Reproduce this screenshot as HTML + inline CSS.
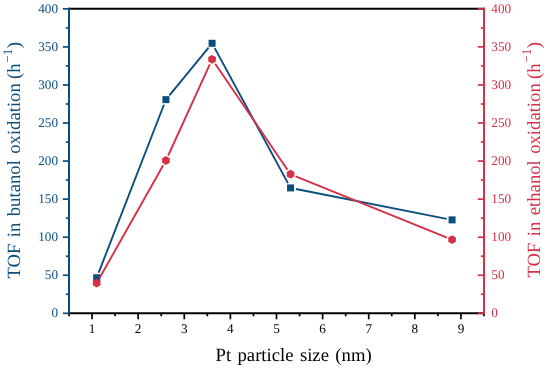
<!DOCTYPE html>
<html><head><meta charset="utf-8"><title>TOF vs Pt particle size</title>
<style>html,body{margin:0;padding:0;background:#fff}</style></head>
<body>
<svg width="550" height="371" viewBox="0 0 550 371" style="display:block;text-rendering:geometricPrecision;font-family:'Liberation Serif',serif">
<rect width="550" height="371" fill="#fff"/>
<line x1="98.69" y1="272.60" x2="163.93" y2="104.75" stroke="#0a4e7e" stroke-width="1.9"/>
<line x1="169.41" y1="95.37" x2="208.60" y2="47.55" stroke="#0a4e7e" stroke-width="1.9"/>
<line x1="214.71" y1="48.13" x2="287.92" y2="183.08" stroke="#0a4e7e" stroke-width="1.9"/>
<line x1="295.94" y1="188.98" x2="446.70" y2="218.81" stroke="#0a4e7e" stroke-width="1.9"/>
<rect x="93.19" y="274.23" width="7" height="7" fill="#0a4e7e"/>
<rect x="162.43" y="96.12" width="7" height="7" fill="#0a4e7e"/>
<rect x="208.58" y="39.80" width="7" height="7" fill="#0a4e7e"/>
<rect x="287.05" y="184.41" width="7" height="7" fill="#0a4e7e"/>
<rect x="448.59" y="216.38" width="7" height="7" fill="#0a4e7e"/>
<line x1="99.40" y1="278.27" x2="163.22" y2="165.30" stroke="#d63048" stroke-width="1.9"/>
<line x1="168.21" y1="155.51" x2="209.80" y2="64.29" stroke="#d63048" stroke-width="1.9"/>
<line x1="215.18" y1="63.83" x2="287.45" y2="169.67" stroke="#d63048" stroke-width="1.9"/>
<line x1="295.64" y1="176.28" x2="446.99" y2="237.61" stroke="#d63048" stroke-width="1.9"/>
<polygon points="96.69,278.66 100.50,280.86 100.50,285.25 96.69,287.45 92.88,285.25 92.88,280.86" fill="#d63048"/>
<polygon points="165.93,156.11 169.74,158.31 169.74,162.71 165.93,164.91 162.12,162.71 162.12,158.31" fill="#d63048"/>
<polygon points="212.08,54.88 215.89,57.08 215.89,61.48 212.08,63.68 208.27,61.48 208.27,57.08" fill="#d63048"/>
<polygon points="290.55,169.81 294.36,172.01 294.36,176.41 290.55,178.61 286.74,176.41 286.74,172.01" fill="#d63048"/>
<polygon points="452.09,235.27 455.90,237.47 455.90,241.87 452.09,244.07 448.28,241.87 448.28,237.47" fill="#d63048"/>
<line x1="68.0" y1="8.85" x2="485.0" y2="8.85" stroke="#000" stroke-width="2.0"/>
<line x1="68.0" y1="313.3" x2="485.0" y2="313.3" stroke="#000" stroke-width="2.0"/>
<line x1="69.00" y1="313.3" x2="69.00" y2="316.3" stroke="#000" stroke-width="1.7"/>
<line x1="92.06" y1="313.3" x2="92.06" y2="319.3" stroke="#000" stroke-width="1.7"/>
<text x="92.06" y="333.3" font-size="13.2" text-anchor="middle" fill="#000">1</text>
<line x1="115.11" y1="313.3" x2="115.11" y2="316.3" stroke="#000" stroke-width="1.7"/>
<line x1="138.17" y1="313.3" x2="138.17" y2="319.3" stroke="#000" stroke-width="1.7"/>
<text x="138.17" y="333.3" font-size="13.2" text-anchor="middle" fill="#000">2</text>
<line x1="161.22" y1="313.3" x2="161.22" y2="316.3" stroke="#000" stroke-width="1.7"/>
<line x1="184.28" y1="313.3" x2="184.28" y2="319.3" stroke="#000" stroke-width="1.7"/>
<text x="184.28" y="333.3" font-size="13.2" text-anchor="middle" fill="#000">3</text>
<line x1="207.33" y1="313.3" x2="207.33" y2="316.3" stroke="#000" stroke-width="1.7"/>
<line x1="230.39" y1="313.3" x2="230.39" y2="319.3" stroke="#000" stroke-width="1.7"/>
<text x="230.39" y="333.3" font-size="13.2" text-anchor="middle" fill="#000">4</text>
<line x1="253.44" y1="313.3" x2="253.44" y2="316.3" stroke="#000" stroke-width="1.7"/>
<line x1="276.50" y1="313.3" x2="276.50" y2="319.3" stroke="#000" stroke-width="1.7"/>
<text x="276.50" y="333.3" font-size="13.2" text-anchor="middle" fill="#000">5</text>
<line x1="299.56" y1="313.3" x2="299.56" y2="316.3" stroke="#000" stroke-width="1.7"/>
<line x1="322.61" y1="313.3" x2="322.61" y2="319.3" stroke="#000" stroke-width="1.7"/>
<text x="322.61" y="333.3" font-size="13.2" text-anchor="middle" fill="#000">6</text>
<line x1="345.67" y1="313.3" x2="345.67" y2="316.3" stroke="#000" stroke-width="1.7"/>
<line x1="368.72" y1="313.3" x2="368.72" y2="319.3" stroke="#000" stroke-width="1.7"/>
<text x="368.72" y="333.3" font-size="13.2" text-anchor="middle" fill="#000">7</text>
<line x1="391.78" y1="313.3" x2="391.78" y2="316.3" stroke="#000" stroke-width="1.7"/>
<line x1="414.83" y1="313.3" x2="414.83" y2="319.3" stroke="#000" stroke-width="1.7"/>
<text x="414.83" y="333.3" font-size="13.2" text-anchor="middle" fill="#000">8</text>
<line x1="437.89" y1="313.3" x2="437.89" y2="316.3" stroke="#000" stroke-width="1.7"/>
<line x1="460.94" y1="313.3" x2="460.94" y2="319.3" stroke="#000" stroke-width="1.7"/>
<text x="460.94" y="333.3" font-size="13.2" text-anchor="middle" fill="#000">9</text>
<line x1="484.00" y1="313.3" x2="484.00" y2="316.3" stroke="#000" stroke-width="1.7"/>
<line x1="69.0" y1="7.85" x2="69.0" y2="314.3" stroke="#0a4e7e" stroke-width="2.0"/>
<line x1="484.0" y1="7.85" x2="484.0" y2="314.3" stroke="#d63048" stroke-width="2.0"/>
<line x1="62.8" y1="313.30" x2="69.0" y2="313.30" stroke="#0a4e7e" stroke-width="1.7"/>
<line x1="477.8" y1="313.30" x2="484.0" y2="313.30" stroke="#d63048" stroke-width="1.7"/>
<text x="58.0" y="317.40" font-size="13.2" text-anchor="end" fill="#0a4e7e">0</text>
<text x="491.3" y="317.20" font-size="13.2" text-anchor="start" fill="#d63048">0</text>
<line x1="65.8" y1="294.27" x2="69.0" y2="294.27" stroke="#0a4e7e" stroke-width="1.7"/>
<line x1="480.8" y1="294.27" x2="484.0" y2="294.27" stroke="#d63048" stroke-width="1.7"/>
<line x1="62.8" y1="275.24" x2="69.0" y2="275.24" stroke="#0a4e7e" stroke-width="1.7"/>
<line x1="477.8" y1="275.24" x2="484.0" y2="275.24" stroke="#d63048" stroke-width="1.7"/>
<text x="58.0" y="279.34" font-size="13.2" text-anchor="end" fill="#0a4e7e">50</text>
<text x="491.3" y="279.14" font-size="13.2" text-anchor="start" fill="#d63048">50</text>
<line x1="65.8" y1="256.22" x2="69.0" y2="256.22" stroke="#0a4e7e" stroke-width="1.7"/>
<line x1="480.8" y1="256.22" x2="484.0" y2="256.22" stroke="#d63048" stroke-width="1.7"/>
<line x1="62.8" y1="237.19" x2="69.0" y2="237.19" stroke="#0a4e7e" stroke-width="1.7"/>
<line x1="477.8" y1="237.19" x2="484.0" y2="237.19" stroke="#d63048" stroke-width="1.7"/>
<text x="58.0" y="241.29" font-size="13.2" text-anchor="end" fill="#0a4e7e">100</text>
<text x="491.3" y="241.09" font-size="13.2" text-anchor="start" fill="#d63048">100</text>
<line x1="65.8" y1="218.16" x2="69.0" y2="218.16" stroke="#0a4e7e" stroke-width="1.7"/>
<line x1="480.8" y1="218.16" x2="484.0" y2="218.16" stroke="#d63048" stroke-width="1.7"/>
<line x1="62.8" y1="199.13" x2="69.0" y2="199.13" stroke="#0a4e7e" stroke-width="1.7"/>
<line x1="477.8" y1="199.13" x2="484.0" y2="199.13" stroke="#d63048" stroke-width="1.7"/>
<text x="58.0" y="203.23" font-size="13.2" text-anchor="end" fill="#0a4e7e">150</text>
<text x="491.3" y="203.03" font-size="13.2" text-anchor="start" fill="#d63048">150</text>
<line x1="65.8" y1="180.10" x2="69.0" y2="180.10" stroke="#0a4e7e" stroke-width="1.7"/>
<line x1="480.8" y1="180.10" x2="484.0" y2="180.10" stroke="#d63048" stroke-width="1.7"/>
<line x1="62.8" y1="161.08" x2="69.0" y2="161.08" stroke="#0a4e7e" stroke-width="1.7"/>
<line x1="477.8" y1="161.08" x2="484.0" y2="161.08" stroke="#d63048" stroke-width="1.7"/>
<text x="58.0" y="165.18" font-size="13.2" text-anchor="end" fill="#0a4e7e">200</text>
<text x="491.3" y="164.98" font-size="13.2" text-anchor="start" fill="#d63048">200</text>
<line x1="65.8" y1="142.05" x2="69.0" y2="142.05" stroke="#0a4e7e" stroke-width="1.7"/>
<line x1="480.8" y1="142.05" x2="484.0" y2="142.05" stroke="#d63048" stroke-width="1.7"/>
<line x1="62.8" y1="123.02" x2="69.0" y2="123.02" stroke="#0a4e7e" stroke-width="1.7"/>
<line x1="477.8" y1="123.02" x2="484.0" y2="123.02" stroke="#d63048" stroke-width="1.7"/>
<text x="58.0" y="127.12" font-size="13.2" text-anchor="end" fill="#0a4e7e">250</text>
<text x="491.3" y="126.92" font-size="13.2" text-anchor="start" fill="#d63048">250</text>
<line x1="65.8" y1="103.99" x2="69.0" y2="103.99" stroke="#0a4e7e" stroke-width="1.7"/>
<line x1="480.8" y1="103.99" x2="484.0" y2="103.99" stroke="#d63048" stroke-width="1.7"/>
<line x1="62.8" y1="84.96" x2="69.0" y2="84.96" stroke="#0a4e7e" stroke-width="1.7"/>
<line x1="477.8" y1="84.96" x2="484.0" y2="84.96" stroke="#d63048" stroke-width="1.7"/>
<text x="58.0" y="89.06" font-size="13.2" text-anchor="end" fill="#0a4e7e">300</text>
<text x="491.3" y="88.86" font-size="13.2" text-anchor="start" fill="#d63048">300</text>
<line x1="65.8" y1="65.93" x2="69.0" y2="65.93" stroke="#0a4e7e" stroke-width="1.7"/>
<line x1="480.8" y1="65.93" x2="484.0" y2="65.93" stroke="#d63048" stroke-width="1.7"/>
<line x1="62.8" y1="46.91" x2="69.0" y2="46.91" stroke="#0a4e7e" stroke-width="1.7"/>
<line x1="477.8" y1="46.91" x2="484.0" y2="46.91" stroke="#d63048" stroke-width="1.7"/>
<text x="58.0" y="51.01" font-size="13.2" text-anchor="end" fill="#0a4e7e">350</text>
<text x="491.3" y="50.81" font-size="13.2" text-anchor="start" fill="#d63048">350</text>
<line x1="65.8" y1="27.88" x2="69.0" y2="27.88" stroke="#0a4e7e" stroke-width="1.7"/>
<line x1="480.8" y1="27.88" x2="484.0" y2="27.88" stroke="#d63048" stroke-width="1.7"/>
<line x1="62.8" y1="8.85" x2="69.0" y2="8.85" stroke="#0a4e7e" stroke-width="1.7"/>
<line x1="477.8" y1="8.85" x2="484.0" y2="8.85" stroke="#d63048" stroke-width="1.7"/>
<text x="58.0" y="12.95" font-size="13.2" text-anchor="end" fill="#0a4e7e">400</text>
<text x="491.3" y="12.75" font-size="13.2" text-anchor="start" fill="#d63048">400</text>
<text x="293.6" y="361.0" font-size="18.7" word-spacing="1.7" text-anchor="middle" fill="#000">Pt particle size (nm)</text>
<text transform="translate(20.3,160.2) rotate(-90)" font-size="18.7" word-spacing="1.7" text-anchor="middle" fill="#0a4e7e">TOF in butanol oxidation <tspan dx="-2.2">(h</tspan><tspan font-size="13.2" dy="-8.3" dx="0.8">−1</tspan><tspan dy="8.3" dx="0.5">)</tspan></text>
<text transform="translate(539.6,159.7) rotate(-90)" font-size="18.7" word-spacing="1.7" text-anchor="middle" fill="#d63048">TOF in ethanol oxidation <tspan dx="-2.2">(h</tspan><tspan font-size="13.2" dy="-8.3" dx="0.8">−1</tspan><tspan dy="8.3" dx="0.5">)</tspan></text>
</svg>
</body></html>
